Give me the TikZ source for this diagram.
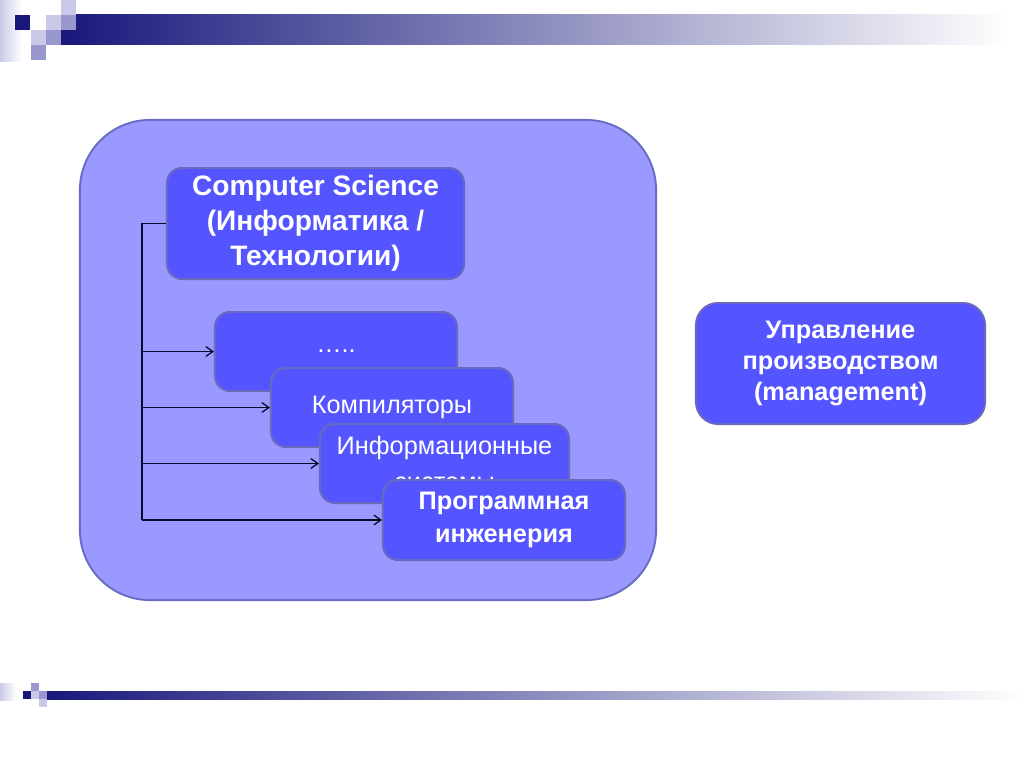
\documentclass[tikz,border=0pt]{standalone}
\usepackage{fontspec}
\setmainfont{Liberation Sans}
\usepackage{tikz}
\usetikzlibrary{arrows.meta, positioning, calc}

\definecolor{panelfill}{RGB}{153,153,255}
\definecolor{panelline}{RGB}{107,107,200}
\definecolor{boxfill}{RGB}{85,85,255}
\definecolor{boxline}{RGB}{105,105,190}
\definecolor{navy}{RGB}{24,24,124}
\definecolor{lilac}{RGB}{202,202,232}
\definecolor{lavmid}{RGB}{152,152,206}
\definecolor{wire}{RGB}{10,10,40}

\begin{document}
\begin{tikzpicture}[x=0.025cm, y=-0.025cm,
    area/.style={draw=boxline, fill=boxfill, line width=1.4pt, rounded corners=0.375cm,
      text=white, align=center, inner sep=0pt, minimum width=6.05cm, minimum height=1.975cm,
      font=\fontsize{18}{26}\selectfont},
    arrow/.style={-{Straight Barb[length=5pt, width=7pt]}, line width=0.9pt, draw=wire}
  ]
    \useasboundingbox (0,0) rectangle (1024,768);

    % Top decoration
    \shade[left color=lilac, right color=white] (0,0) rectangle (22,62);
    \shade[left color=navy, right color=white] (61,15) rectangle (1010,45);
    \fill[navy] (15,15) rectangle (30,30);
    \fill[lilac] (46,15) rectangle (61,30);
    \fill[lilac] (61,0) rectangle (76,15);
    \fill[lilac] (31,30) rectangle (46,45);
    \fill[lavmid] (61,15) rectangle (76,30);
    \fill[lavmid] (46,30) rectangle (61,45);
    \fill[lavmid] (31,45) rectangle (46,60);

    % Bottom decoration
    \shade[left color=lilac, right color=white] (0,683) rectangle (16,700);
    \shade[left color=navy, right color=white] (47,691) rectangle (1024,699);
    \fill[navy] (23,691) rectangle (31,699);
    \fill[lavmid] (31,683) rectangle (39,691);
    \fill[lilac] (31,691) rectangle (39,699);
    \fill[lavmid] (39,691) rectangle (47,699);
    \fill[lilac] (39,699) rectangle (47,707);

    % Panel
    \node[draw=panelline, fill=panelfill, line width=1.4pt, rounded corners=1.75cm,
      minimum width=14.4cm, minimum height=12cm] (panel) at (368,360) {};

    % Computer Science
    \node[area, minimum width=7.425cm, minimum height=2.775cm,
      font=\fontsize{20}{25}\selectfont\bfseries] (cs) at (315.5,223.5) {
      Computer Science\\(Информатика /\\Технологии)
    };

    % Subfields
    \node[area] (dots) at (336,351.5) {…..};
    \node[area] (comp) at (392,407.5) {Компиляторы};
    \node[area, minimum width=6.225cm] (info) at (444.5,463.5) {
      Информационные\\системы
    };
    \node[area, minimum height=2cm, font=\fontsize{18}{23}\selectfont\bfseries] (prog) at (504,520) {
      Программная\\инженерия
    };

    % Management
    \node[area, minimum width=7.225cm, minimum height=3.025cm, rounded corners=0.55cm,
      font=\fontsize{18}{22}\selectfont\bfseries] (mgmt) at (840.5,363.5) {
      Управление\\производством\\(management)
    };

    % Arrows
    \coordinate (bus) at (142,223.5);
    \draw[line width=0.9pt, draw=wire] (cs.west) -- (bus) -- (bus |- prog.west);
    \foreach \n in {dots, comp, info, prog}
      \draw[arrow] (bus |- \n.west) -- (\n.west);

  \end{tikzpicture}
\end{document}
